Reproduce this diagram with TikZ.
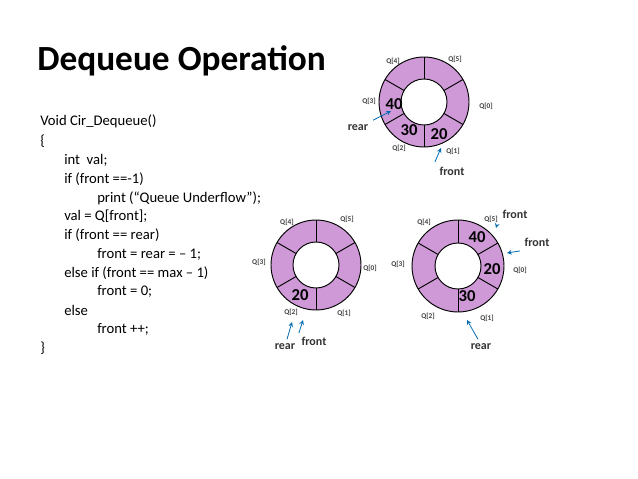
\documentclass[tikz,border=0pt]{standalone}
\usepackage{fontspec}
\setmainfont{Carlito}
\usetikzlibrary{calc}
\begin{document}
\begin{tikzpicture}[x=0.75pt,y=-0.75pt,
  code/.style={anchor=west,font=\fontsize{11}{12}\selectfont,inner sep=0},
  ql/.style={font=\bfseries\fontsize{5.5}{6}\selectfont,text=black!75},
  num/.style={font=\bfseries\fontsize{12.5}{13}\selectfont},
  ptr/.style={font=\bfseries\fontsize{9}{10}\selectfont,text=black!80},
  arr/.style={-stealth,draw=blue!40!cyan!70!black,line width=0.6pt},
  ringc/.style={fill=ringfill,draw=black,line width=0.7pt,even odd rule}]
\definecolor{ringfill}{RGB}{206,153,214}
\useasboundingbox (0,0) rectangle (638,478);
\newcommand{\myring}[4]{% cx cy R r
  \path[ringc] (#1,#2) circle[radius=#3] (#1,#2) circle[radius=#4];
  \foreach \a in {90,30,-30,-90,-150,150}
    \draw[line width=0.7pt] ($(#1,#2)+(\a:#4)$) -- ($(#1,#2)+(\a:#3)$);}
\node[anchor=west,font=\bfseries\fontsize{26.5}{28}\selectfont,inner sep=0] (title) at (37,61) {Dequeue Operation};
\node[code] (l1) at (40,121) {Void Cir\_Dequeue()};
\node[code] (l2) at (40,141) {\{};
\node[code] (l3) at (64,160) {int\ \ val;};
\node[code] (l4) at (64,179) {if (front ==-1)};
\node[code] (l5) at (97,198) {print (“Queue Underflow”);};
\node[code] (l6) at (64,216) {val = Q[front];};
\node[code] (l7) at (64,235) {if (front == rear)};
\node[code] (l8) at (97,254) {front = rear = – 1;};
\node[code] (l9) at (64,273) {else if (front == max – 1)};
\node[code] (l10) at (97,291) {front = 0;};
\node[code] (l11) at (64,310) {else};
\node[code] (l12) at (97,329) {front ++;};
\node[code] (l13) at (40,348) {\}};
% top ring
\myring{424}{102}{45}{23}
\node[ql] (a4) at (393,61) {Q[4]};
\node[ql] (a5) at (455,59) {Q[5]};
\node[ql] (a3) at (369,101) {Q[3]};
\node[ql] (a0) at (486,106) {Q[0]};
\node[ql] (a2) at (399,148) {Q[2]};
\node[ql] (a1) at (453,151) {Q[1]};
\node[num] (a40) at (394,104) {40};
\node[num] (a30) at (409,130) {30};
\node[num] (a20) at (439,134) {20};
\node[ptr] (arear) at (358,128) {rear};
\node[ptr] (afront) at (452,171) {front};
\coordinate (ar) at (391,111); \coordinate (af) at (441,148);
\draw[arr] (arear.north east) -- (ar);
\draw[arr] (afront.north west) -- (af);
% bottom left ring
\myring{316}{265}{45}{23}
\node[ql] (b4) at (287,222) {Q[4]};
\node[ql] (b5) at (347,219) {Q[5]};
\node[ql] (b3) at (259,262) {Q[3]};
\node[ql] (b0) at (370,268) {Q[0]};
\node[ql] (b2) at (291,312) {Q[2]};
\node[ql] (b1) at (344,313) {Q[1]};
\node[num] (b20) at (300,295) {20};
\node[ptr] (brear) at (285,347) {rear};
\node[ptr] (bfront) at (314,341) {front};
\coordinate (br) at (292,322); \coordinate (bf) at (303,320);
\draw[arr] (brear.north) ++(2,0) -- (br);
\draw[arr] (bfront.north west) ++(2,1) -- (bf);
% bottom right ring
\myring{458}{266}{46}{23}
\node[ql] (c4) at (424,222) {Q[4]};
\node[ql] (c5) at (491,219) {Q[5]};
\node[ql] (c3) at (398,264) {Q[3]};
\node[ql] (c0) at (520,270) {Q[0]};
\node[ql] (c2) at (428,316) {Q[2]};
\node[ql] (c1) at (487,318) {Q[1]};
\node[num] (c40) at (477,237) {40};
\node[num] (c20) at (492,269) {20};
\node[num] (c30) at (467,296) {30};
\node[ptr] (cfront) at (515,214) {front};
\node[ptr] (cfront2) at (537,242) {front};
\node[ptr] (crear) at (481,347) {rear};
\coordinate (cf) at (496,228); \coordinate (cf2) at (507,253); \coordinate (cr) at (467,320);
\draw[arr] (cfront.south west) ++(-1,2) -- (cf);
\draw[arr] (cfront2.south west) -- (cf2);
\draw[arr] (crear.north) ++(-3,0) -- (cr);
\end{tikzpicture}
\end{document}
